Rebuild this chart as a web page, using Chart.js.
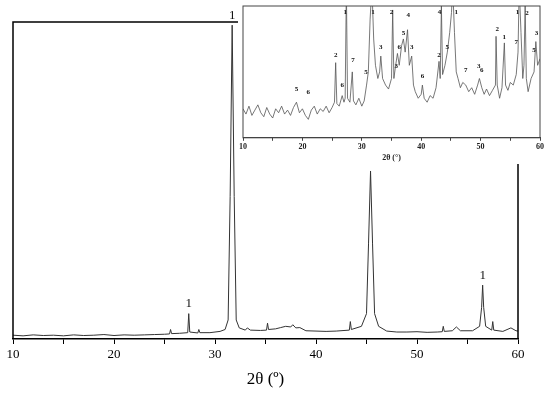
<!DOCTYPE html>
<html><head><meta charset="utf-8">
<script src="https://cdn.jsdelivr.net/npm/chart.js@4"></script>
<style>
body{margin:0;background:#fff;width:550px;height:400px;overflow:hidden;position:relative}
#main{position:absolute;left:0;top:0}
#ins{position:absolute;left:238px;top:2px;background:#fff}
</style></head><body>
<canvas id="main" width="550" height="400"></canvas>
<canvas id="ins" width="308" height="162"></canvas>
<script>
const mainX=[10,11,12,13,14,15,16,17,18,19,20,21,22,23,24,25,25.5,25.6,25.7,26.5,27.3,27.4,27.5,28.3,28.4,28.5,29.5,30.5,31.0,31.3,31.5,31.7,31.9,32.1,32.4,33,33.2,33.5,34.5,35.1,35.2,35.3,36,36.5,37,37.5,37.7,38,38.4,39,40,41,42,43.3,43.4,43.5,44.5,45.0,45.2,45.4,45.6,45.8,46.2,47,48,49,50,51,52,52.5,52.6,52.7,53.5,53.9,54.3,55.5,56.2,56.4,56.5,56.6,56.8,57.4,57.5,57.6,58.5,59.3,59.8,60];
const mainY=[1.2,1.0,1.3,1.1,1.2,1.0,1.3,1.1,1.2,1.4,1.1,1.3,1.2,1.3,1.4,1.5,1.6,3.0,1.7,1.8,2.0,8.0,2.2,1.9,3.0,2.0,2.0,2.4,3.0,6,45,99,45,6,3.5,2.8,3.5,2.8,2.7,2.8,5,3.0,3.2,3.6,4.0,3.8,4.5,3.5,3.6,2.6,2.5,2.4,2.5,2.8,5.5,3.0,4,8,30,53,30,8,4,2.5,2.2,2.2,2.3,2.1,2.2,2.3,4.0,2.4,2.6,3.8,2.6,2.6,4,10,17,10,4,2.8,5.5,2.8,2.4,3.5,2.6,2.5];
const mainLabX=[27.4,31.7,45.4,56.5];
const mainLabY=[9,100,55,18];
const mainLab=["1","1","1","1"];
const insX=[10,10.5,11,11.5,12,12.5,13,13.5,14,14.5,15,15.5,16,16.5,17,17.5,18,18.5,19,19.5,20,20.5,21,21.5,22,22.5,23,23.5,24,24.5,25,25.4,25.6,25.8,26.2,26.7,27.0,27.2,27.4,27.6,28,28.4,28.6,29,29.5,30,30.4,30.8,31.1,31.4,31.7,32.0,32.3,32.7,33.0,33.2,33.5,34,34.5,35.0,35.2,35.4,35.7,36.0,36.3,36.7,37.0,37.3,37.7,38.0,38.4,38.7,39,39.5,40,40.2,40.5,41,41.5,42,42.5,43.0,43.2,43.4,43.6,44,44.4,44.8,45.1,45.3,45.6,45.9,46.2,46.6,47,47.5,48,48.5,49,49.5,49.8,50.2,50.6,51,51.5,52,52.5,52.6,52.8,53.2,53.6,54.0,54.2,54.6,55,55.5,56,56.3,56.5,56.8,57.1,57.3,57.5,57.7,58,58.5,59,59.3,59.6,60];
const insY=[22,18,24,17,21,25,19,16,23,18,15,22,19,24,18,21,17,23,27,19,22,17,14,21,24,18,22,20,24,19,23,27,57,26,24,32,27,30,115,30,27,50,28,25,30,24,28,40,50,90,115,75,55,45,50,62,45,40,37,45,97,45,55,64,55,70,75,65,82,55,62,40,35,30,33,40,30,27,32,30,38,58,45,100,48,55,65,80,95,115,80,50,45,38,42,40,35,38,33,40,45,38,33,37,32,36,40,77,40,30,38,72,40,36,42,40,48,65,115,80,45,55,100,45,35,45,50,73,55,60];
const insLabX=[19,21,25.6,26.7,27.2,28.5,30.7,31.9,33.2,35.0,35.8,36.3,37.0,37.8,38.4,40.2,43,43.1,44.4,45.9,47.5,49.7,50.2,52.8,54,56,56.2,57.8,59.0,59.4];
const insLabY=[34,32,60,37,93,56,47,93,66,93,52,66,77,90,66,44,60,93,66,93,49,52,49,80,74,70,93,92,64,77];
const insLab=["5","6","2","6","1","7","5","1","3","2","3","6","5","4","3","6","2","4","5","1","7","3","6","2","1","7","1","2","5","3"];

const serif="'Liberation Serif', serif";
function labelPlugin(xs,ys,ls,font){return{id:'labs',afterDatasetsDraw(c){const ctx=c.ctx,sx=c.scales.x,sy=c.scales.y;ctx.save();ctx.fillStyle='#111';ctx.font=font;ctx.textAlign='center';ctx.textBaseline='bottom';
for(let i=0;i<xs.length;i++){ctx.fillText(ls[i],sx.getPixelForValue(xs[i]),sy.getPixelForValue(ys[i]));}ctx.restore();}};}
const framePlugin={id:'frame',afterDraw(c){const a=c.chartArea,ctx=c.ctx;ctx.save();ctx.strokeStyle='#000';ctx.lineWidth=1.5;ctx.beginPath();
ctx.moveTo(a.left,a.bottom);ctx.lineTo(a.left,a.top);ctx.lineTo(a.right,a.top);ctx.lineTo(a.right,a.bottom);ctx.stroke();ctx.restore();}};
const pts=(xs,ys)=>xs.map((x,i)=>({x,y:ys[i]}));

new Chart(document.getElementById('main'),{type:'line',
data:{datasets:[{data:pts(mainX,mainY),borderColor:'#333',borderWidth:1,pointRadius:0,tension:0}]},
options:{responsive:false,animation:false,layout:{padding:{left:13,right:32,top:22,bottom:6}},
plugins:{legend:{display:false},tooltip:{enabled:false}},
scales:{x:{type:'linear',min:10,max:60,border:{color:'#000',width:1.5},
grid:{drawOnChartArea:false,drawTicks:true,tickLength:5,color:'#000'},
ticks:{stepSize:5,color:'#000',font:{family:serif,size:13},callback:v=>v%10===0?v:''},
title:{display:true,text:'2θ (º)',color:'#000',font:{family:serif,size:17}}},
y:{display:false,min:0,max:100}}},
plugins:[labelPlugin(mainLabX,mainLabY,mainLab,'13px '+serif),framePlugin]});

new Chart(document.getElementById('ins'),{type:'line',
data:{datasets:[{data:pts(insX,insY),borderColor:'#555',borderWidth:0.8,pointRadius:0,tension:0}]},
options:{responsive:false,animation:false,layout:{padding:{left:2,right:6,top:4,bottom:0}},
plugins:{legend:{display:false},tooltip:{enabled:false}},
scales:{x:{type:'linear',min:10,max:60,border:{color:'#444',width:1},
grid:{drawOnChartArea:false,drawTicks:true,tickLength:3,color:'#444'},
ticks:{stepSize:5,color:'#222',padding:1,font:{family:serif,size:8,weight:'bold'},callback:v=>v%10===0?v:''},
title:{display:true,text:'2θ (°)',color:'#222',padding:1,font:{family:serif,size:8,weight:'bold'}}},
y:{display:false,min:0,max:100}}},
plugins:[labelPlugin(insLabX,insLabY,insLab,'bold 7px '+serif),{id:'f2',afterDraw(c){const a=c.chartArea,ctx=c.ctx;ctx.save();ctx.strokeStyle='#444';ctx.lineWidth=1;ctx.strokeRect(a.left,a.top,a.right-a.left,a.bottom-a.top);ctx.restore();}}]});
</script></body></html>
